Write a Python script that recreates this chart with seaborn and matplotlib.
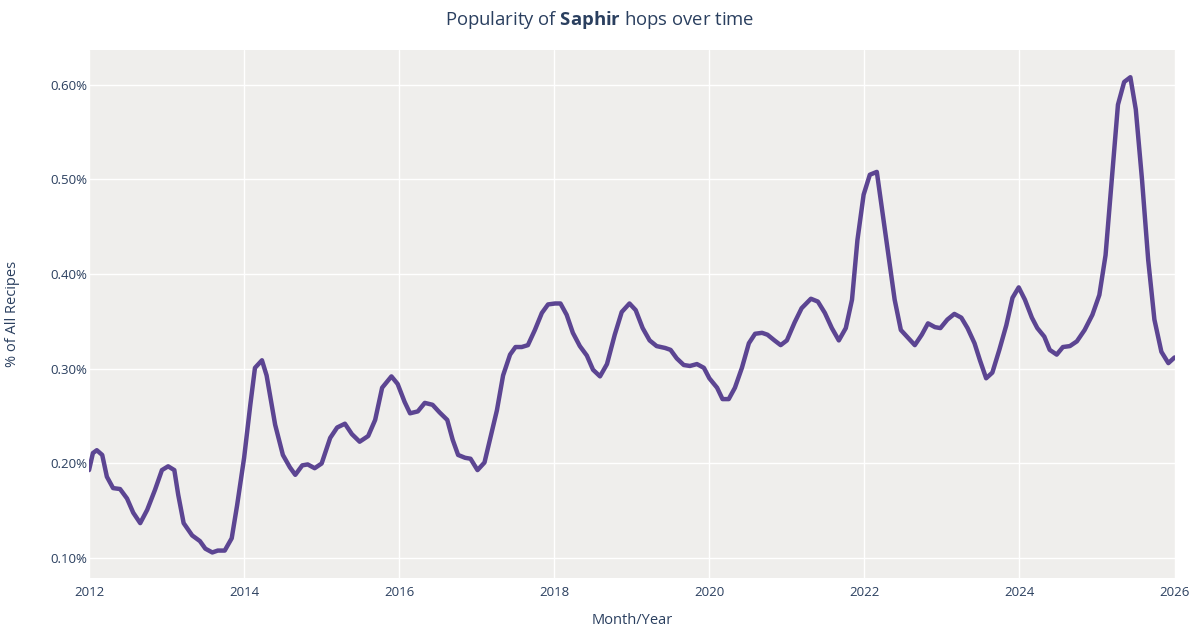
import numpy as np
import pandas as pd
import seaborn as sns
from matplotlib import pyplot as plt
from matplotlib.ticker import FuncFormatter

# fractional year and % of all recipes
years = [2012.0, 2012.05, 2012.1, 2012.17, 2012.23, 2012.31, 2012.4, 2012.49, 2012.57, 2012.66,
         2012.75, 2012.85, 2012.94, 2013.02, 2013.1, 2013.15, 2013.22, 2013.33, 2013.43, 2013.5,
         2013.59, 2013.66, 2013.75, 2013.84, 2013.91, 2014.0, 2014.08, 2014.14, 2014.23, 2014.29,
         2014.4, 2014.5, 2014.59, 2014.66, 2014.75, 2014.82, 2014.91, 2015.0, 2015.11, 2015.2,
         2015.3, 2015.39, 2015.49, 2015.6, 2015.69, 2015.78, 2015.9, 2015.98, 2016.07, 2016.14,
         2016.24, 2016.33, 2016.43, 2016.52, 2016.62, 2016.69, 2016.76, 2016.85, 2016.92, 2017.01,
         2017.1, 2017.17, 2017.26, 2017.34, 2017.43, 2017.5, 2017.58, 2017.66, 2017.75, 2017.84,
         2017.92, 2018.01, 2018.08, 2018.16, 2018.24, 2018.33, 2018.42, 2018.5, 2018.59, 2018.68,
         2018.78, 2018.87, 2018.97, 2019.05, 2019.14, 2019.23, 2019.32, 2019.43, 2019.5, 2019.58,
         2019.67, 2019.75, 2019.84, 2019.93, 2020.0, 2020.1, 2020.17, 2020.25, 2020.33, 2020.42,
         2020.51, 2020.59, 2020.68, 2020.75, 2020.84, 2020.92, 2021.0, 2021.1, 2021.19, 2021.31,
         2021.4, 2021.49, 2021.58, 2021.67, 2021.76, 2021.84, 2021.91, 2021.99, 2022.07, 2022.16,
         2022.22, 2022.3, 2022.39, 2022.47, 2022.56, 2022.65, 2022.74, 2022.82, 2022.91, 2022.98,
         2023.07, 2023.16, 2023.25, 2023.33, 2023.42, 2023.49, 2023.57, 2023.65, 2023.74, 2023.83,
         2023.91, 2023.99, 2024.07, 2024.16, 2024.23, 2024.32, 2024.39, 2024.48, 2024.56, 2024.65,
         2024.74, 2024.84, 2024.94, 2025.03, 2025.11, 2025.19, 2025.27, 2025.35, 2025.43, 2025.5,
         2025.58, 2025.66, 2025.74, 2025.83, 2025.92, 2026.0]
share = [0.193, 0.211, 0.214, 0.209, 0.186, 0.174, 0.173, 0.163, 0.148, 0.137,
         0.151, 0.172, 0.193, 0.197, 0.193, 0.167, 0.137, 0.124, 0.118, 0.110,
         0.106, 0.108, 0.108, 0.121, 0.156, 0.206, 0.262, 0.301, 0.309, 0.293,
         0.241, 0.209, 0.196, 0.188, 0.198, 0.199, 0.195, 0.200, 0.227, 0.238,
         0.242, 0.231, 0.223, 0.229, 0.246, 0.280, 0.292, 0.284, 0.265, 0.253,
         0.255, 0.264, 0.262, 0.254, 0.246, 0.225, 0.209, 0.206, 0.205, 0.193,
         0.201, 0.225, 0.256, 0.293, 0.315, 0.323, 0.323, 0.325, 0.341, 0.359,
         0.368, 0.369, 0.369, 0.357, 0.338, 0.324, 0.314, 0.299, 0.292, 0.305,
         0.336, 0.360, 0.369, 0.362, 0.343, 0.330, 0.324, 0.322, 0.320, 0.311,
         0.304, 0.303, 0.305, 0.301, 0.290, 0.280, 0.268, 0.268, 0.280, 0.301,
         0.327, 0.337, 0.338, 0.336, 0.330, 0.325, 0.330, 0.349, 0.364, 0.374,
         0.371, 0.359, 0.343, 0.330, 0.343, 0.373, 0.436, 0.484, 0.505, 0.508,
         0.473, 0.426, 0.373, 0.341, 0.333, 0.325, 0.336, 0.348, 0.344, 0.343,
         0.352, 0.358, 0.354, 0.343, 0.327, 0.309, 0.290, 0.296, 0.320, 0.346,
         0.375, 0.386, 0.373, 0.354, 0.343, 0.334, 0.320, 0.315, 0.323, 0.324,
         0.329, 0.341, 0.357, 0.378, 0.420, 0.500, 0.579, 0.603, 0.608, 0.574,
         0.500, 0.415, 0.352, 0.318, 0.306, 0.312]
year_ticks = [2012, 2014, 2016, 2018, 2020, 2022, 2024, 2026]
pct_ticks = [0.1, 0.2, 0.3, 0.4, 0.5, 0.6]

df = pd.DataFrame({'year': years, 'share': share})

sns.set_theme(style='darkgrid', rc={'axes.facecolor': '#EFEEEC', 'grid.color': 'white',
                                    'grid.linewidth': 1.0})
plt.rcParams['font.family'] = ['Open Sans', 'DejaVu Sans']
plt.rcParams['mathtext.fontset'] = 'custom'
plt.rcParams['mathtext.rm'] = 'Open Sans'
plt.rcParams['mathtext.bf'] = 'Open Sans:bold'
text_col = '#2A3F5F'

fig = plt.figure(figsize=(12, 6.3), dpi=100)
ax = fig.add_axes([0.0742, 0.0825, 0.9046, 0.8385])
sns.lineplot(data=df, x='year', y='share', ax=ax, color='#5C4592', linewidth=3.2,
             solid_joinstyle='round', solid_capstyle='round')

ax.set_xlim(2012, 2026)
ax.set_ylim(0.079, 0.637)
ax.set_xticks(year_ticks)
ax.set_xticklabels([str(y) for y in year_ticks])
ax.set_yticks(pct_ticks)
ax.yaxis.set_major_formatter(FuncFormatter(lambda v, p: f'{v:.2f}%'))
ax.tick_params(axis='both', colors=text_col, labelsize=9.5, length=0)
ax.tick_params(axis='y', pad=1)
ax.tick_params(axis='x', pad=6)
for s in ax.spines.values():
    s.set_visible(False)

ax.set_xlabel('Month/Year', color=text_col, fontsize=10.5, labelpad=10)
ax.set_ylabel('% of All Recipes', color=text_col, fontsize=10.5, labelpad=22)

fig.text(0.5, 0.968, 'Popularity of $\\bf{Saphir}$ hops over time', ha='center', va='center',
         color=text_col, fontsize=13.3)

plt.savefig('out.png', dpi=100)
